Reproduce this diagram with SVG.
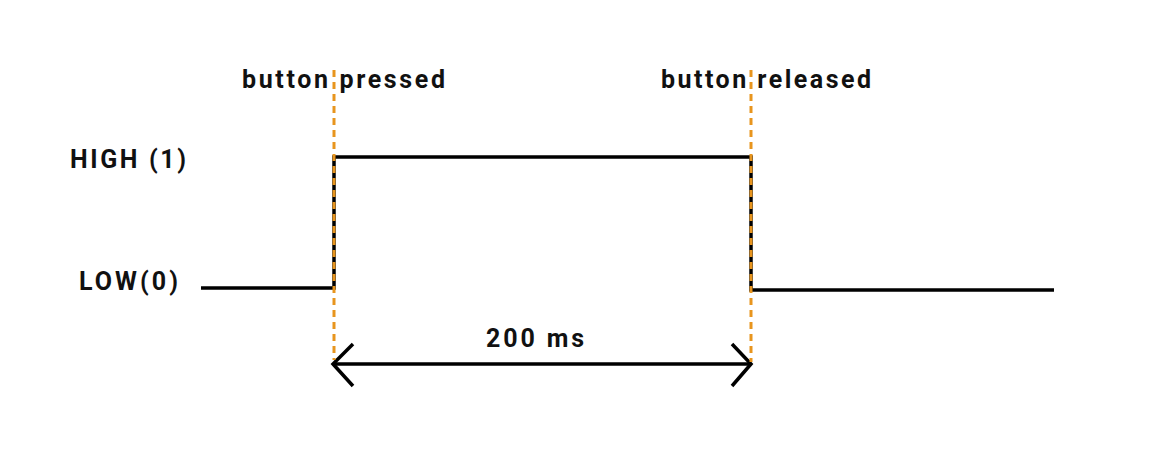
<svg xmlns="http://www.w3.org/2000/svg" width="1158" height="454" viewBox="0 0 1158 454">
<style>
text{font-family:Roboto,"Liberation Sans",sans-serif;font-weight:bold;font-size:25px;fill:#111}
.sig{fill:none;stroke:#000;stroke-width:3.5}
.mark{stroke:#e8951e;stroke-width:3;stroke-dasharray:7 5;fill:none}
</style>
<rect width="1158" height="454" fill="#fff"/>
<g id="labels">
<text x="242" y="88" textLength="203" lengthAdjust="spacing">button pressed</text>
<text x="661" y="88" textLength="210" lengthAdjust="spacing">button released</text>
<text x="70" y="168" textLength="116" lengthAdjust="spacing">HIGH (1)</text>
<text x="79" y="290" textLength="99" lengthAdjust="spacing">LOW(0)</text>
<text x="486" y="347" textLength="98" lengthAdjust="spacing">200 ms</text>
</g>
<g id="connectors">
<polyline class="sig" points="201,288 334,288 334,157 751,157 751,290 1054,290"/>
<line class="sig" x1="333" y1="364" x2="751" y2="364"/>
<polyline class="sig" points="353,344 333,364 353,386"/>
<polyline class="sig" points="732,344 751,364 732,386"/>
<line class="mark" x1="334" y1="70" x2="334" y2="360"/>
<line class="mark" x1="751" y1="70" x2="751" y2="362"/>
</g>
</svg>
